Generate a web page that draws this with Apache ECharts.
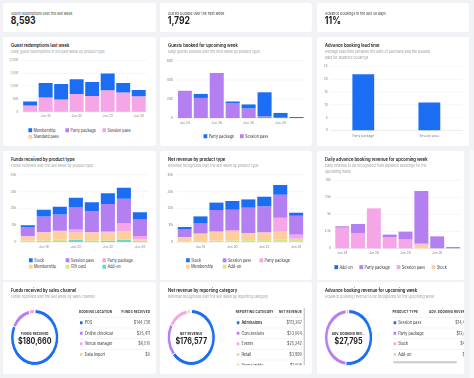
<!DOCTYPE html>
<html><head><meta charset="utf-8">
<script src="https://cdn.jsdelivr.net/npm/echarts@6/dist/echarts.min.js"></script>
<style>
html,body{margin:0;padding:0;width:474px;height:378px;overflow:hidden;background:#f1f2f6;}
#page{position:absolute;left:0;top:0;transform-origin:0 0;font-family:Inter,Roboto,"Noto Sans",sans-serif;}
.card{position:absolute;background:#fff;border-radius:8px;overflow:hidden;}
.t{position:absolute;white-space:nowrap;}
.box{position:absolute;}
</style></head><body><div id="page"></div>
<script>
// ---------------- data ----------------
const lastWeekDays = ['Jun 17','Jun 18','Jun 19','Jun 20','Jun 21','Jun 22','Jun 23','Jun 24'];
const nextWeekDays = ['Jun 24','Jun 25','Jun 26','Jun 27','Jun 28','Jun 29','Jun 30','Jul 1'];

const kpiLabels = ['Guest redemptions over the last week','Guests booked over the next week','Advance bookings in the last 30 days'];
const kpiValues = ['8,593','1,792','11%'];

// Guest redemptions last week
const redemptionSeriesNames = ['Membership','Party package','Session pass','Standard pass'];
const redemptionMembership = [160, 570, 610, 570, 545, 660, 365, 245];
const redemptionPartyPackage = [0, 0, 0, 0, 0, 0, 0, 0];
const redemptionSessionPass = [240, 550, 470, 690, 610, 830, 750, 600];
const redemptionStandardPass = [0, 0, 0, 0, 0, 0, 0, 0];
const redemptionTicks = [0, 500, 1000, 1500, 2000];

// Guests booked for upcoming week
const bookedSeriesNames = ['Party package','Session pass'];
const bookedPartyPackage = [0, 42, 0, 17, 42, 252, 50, 10];
const bookedSessionPass = [286, 210, 471, 155, 100, 17, 3, 0];
const bookedTicks = [0, 200, 400, 600];

// Advance booking lead time
const leadTimeCategories = ['Party package','Session pass'];
const leadTimeDays = [21.9, 10.9];
const leadTimeTicks = [0, 5, 10, 15, 20, 25];

// Funds received by product type (thousands)
const fundsSeriesNames = ['Stock','Session pass','Party package','Membership','Gift card','Add-on'];
const fundsStock = [1.2, 4.0, 4.6, 5.5, 5.4, 6.3, 6.6, 4.3];
const fundsSessionPass = [5.1, 9.3, 9.7, 13.3, 12.3, 16.3, 14.4, 9.7];
const fundsPartyPackage = [0.3, 0.3, 0.2, 1.8, 0.3, 0.6, 5.0, 2.0];
const fundsMembership = [2.5, 4.6, 5.2, 4.0, 4.6, 4.5, 4.7, 0.9];
const fundsGiftCard = [0.5, 0.6, 0.8, 0.5, 0.5, 0.5, 0.4, 0.3];
const fundsAddOn = [0.3, 0.4, 0.5, 1.2, 0.5, 0.7, 1.2, 0.4];
const fundsTicks = [0, 10, 20, 30, 40];

// Net revenue by product type (thousands)
const netSeriesNames = ['Stock','Session pass','Party package','Membership','Add-on'];
const netStock = [1.2, 3.9, 4.4, 5.2, 4.9, 5.7, 5.8, 1.8];
const netSessionPass = [4.7, 6.2, 12.7, 12.1, 15.1, 15.4, 13.7, 11.2];
const netPartyPackage = [0.2, 0.2, 0.4, 1.0, 0.2, 0.2, 8.3, 2.4];
const netMembership = [2.4, 4.3, 5.1, 5.0, 4.0, 4.4, 4.5, 0.8];
const netAddOn = [0.4, 0.6, 0.8, 1.1, 1.1, 1.2, 1.6, 1.2];
const netTicks = [0, 10, 20, 30, 40];

// Daily advance booking revenue for upcoming week (thousands)
const advSeriesNames = ['Add-on','Party package','Session pass','Stock'];
const advAddOn = [0, 0, 0, 0, 0, 0, 0, 0];
const advPartyPackage = [0.2, 1.33, 0, 0.4, 1.13, 7.73, 1.76, 0.2];
const advSessionPass = [3.04, 2.25, 5.88, 1.62, 1.32, 0.15, 0, 0];
const advStock = [0, 0, 0, 0, 0, 0.55, 0, 0];
const advTicks = [0, 2.5, 5, 7.5, 10];

// Donuts
const salesChannels = ['POS','Online checkout','Venue manager','Data import'];
const salesFunds = [144739, 25411, 6510, 0];
const salesFundsLabels = ['$144,739','$25,411','$6,510','$0'];
const salesTotal = '$180,660';

const reportingCategories = ['Admissions','Concessions','Events','Retail','Sponsorship'];
const categoryRevenue = [113267, 33064, 25242, 3996, 1008];
const categoryRevenueLabels = ['$113,267','$33,064','$25,242','$3,996','$1,008'];
const categoryTotal = '$176,577';

const advProductTypes = ['Session pass','Party package','Stock','Add-on'];
const advProductRevenue = [14452, 12871, 452, 20];
const advProductRevenueLabels = ['$14,452','$12,871','$452','$20'];
const advTotal = '$27,795';

// ---------------- layout helpers ----------------
const palette = ['#1b6ef3', '#b47ff0', '#f5a6e6', '#fccf9d', '#d8e58a', '#6cd8c6'];
const CFONT = 'Inter';
const SX = 0.86 / 3, SY = 1 / 3;
const X = v => v / SX, Y = v => v / SY;
const page = document.getElementById('page');
page.style.width = X(474) + 'px';
page.style.height = Y(378) + 'px';
page.style.transform = 'scale(' + SX + ',' + SY + ')';

function makeCard(x, y, w, h) {
  const d = document.createElement('div');
  d.className = 'card';
  d.style.left = X(x) + 'px'; d.style.top = Y(y) + 'px';
  d.style.width = X(w) + 'px'; d.style.height = Y(h) + 'px';
  d._w = X(w); d._h = Y(h);
  page.appendChild(d);
  return d;
}
function addText(parent, str, x, yc, size, weight, color, align, extra) {
  const d = document.createElement('div');
  d.className = 't';
  const lh = size * 1.25;
  d.style.fontSize = size + 'px'; d.style.lineHeight = lh + 'px';
  d.style.fontWeight = weight; d.style.color = color;
  d.style.top = (yc - lh / 2) + 'px';
  if (align === 'right') { d.style.right = (parent._w - x) + 'px'; d.style.textAlign = 'right'; }
  else if (align === 'center') { d.style.left = (x - 300) + 'px'; d.style.width = '600px'; d.style.textAlign = 'center'; }
  else d.style.left = x + 'px';
  if (extra) Object.assign(d.style, extra);
  d.textContent = str;
  parent.appendChild(d);
  return d;
}
function addBox(parent, x, y, w, h, color, radius) {
  const d = document.createElement('div');
  d.className = 'box';
  Object.assign(d.style, {left: x + 'px', top: y + 'px', width: w + 'px', height: h + 'px', background: color, borderRadius: (radius || 0) + 'px'});
  parent.appendChild(d);
  return d;
}
function makeChart(card) {
  const d = document.createElement('div');
  Object.assign(d.style, {position: 'absolute', left: '0', top: '0', width: card._w + 'px', height: card._h + 'px'});
  card.appendChild(d);
  return echarts.init(d, null, {renderer: 'svg'});
}
function titles(card, title, subLines) {
  addText(card, title, 28, 24.5, 14.5, 600, '#1d1d1f');
  subLines.forEach((s, i) => addText(card, s, 28, 44.5 + i * 17.5, 12, 400, '#9b9ca0'));
}

const cols = [3, 160, 317];
const colW = [153, 152, 152];

// faint strip at right edge
const strip = document.createElement('div');
Object.assign(strip.style, {position: 'absolute', left: X(469.5) + 'px', top: Y(150) + 'px', width: X(4.5) + 'px', height: Y(228) + 'px', background: '#f8f8fa'});
page.appendChild(strip);

// ---------------- KPI row ----------------
kpiLabels.forEach((lab, i) => {
  const c = makeCard(cols[i], 3, colW[i], 29);
  addText(c, lab, 28, 30, 12, 400, '#3a3a3c');
  addText(c, kpiValues[i], 27, 53, 30, 700, '#1d1d1f');
});

// ---------------- bar chart builder ----------------
function barChart(card, cfg) {
  const chart = makeChart(card);
  // series listed top-of-stack first; ECharts stacks first series at bottom
  const ser = cfg.series.slice().reverse().map(s => ({
    name: s.name, type: 'bar', stack: cfg.stack === false ? undefined : 'total', data: s.data,
    itemStyle: {color: s.color}, barCategoryGap: cfg.gap, barWidth: cfg.barWidth, silent: true
  }));
  const opt = {
    animation: false,
    textStyle: {fontFamily: CFONT},
    grid: Object.assign({outerBoundsMode: 'none', containLabel: false}, cfg.grid),
    xAxis: {
      type: 'category', data: cfg.cats,
      axisTick: {show: false},
      axisLine: {show: true, lineStyle: {color: '#e3e5ea', width: 2}},
      axisLabel: {color: '#7d7e82', fontSize: 11, fontFamily: CFONT, margin: cfg.xMargin || 8, interval: cfg.labelPick || 0}
    },
    yAxis: {
      type: 'value', min: cfg.ticks[0], max: cfg.ticks[cfg.ticks.length - 1],
      interval: cfg.ticks[1] - cfg.ticks[0],
      axisLine: {show: false}, axisTick: {show: false},
      axisLabel: {color: '#7d7e82', fontSize: 11, fontFamily: CFONT, margin: cfg.yMargin || 12, formatter: cfg.yFmt},
      splitLine: {lineStyle: {color: '#eceef2', width: 2}}
    },
    series: ser
  };
  if (cfg.legend) {
    const lg = Object.assign({
      data: cfg.series.map(s => s.name), icon: 'rect', itemWidth: 13, itemHeight: 12,
      selectedMode: false, orient: 'horizontal'
    }, cfg.legend);
    lg.textStyle = Object.assign({fontSize: 13, color: '#333336', fontFamily: CFONT}, cfg.legend.textStyle || {});
    opt.legend = lg;
  }
  chart.setOption(opt);
}
const kFmt = v => v === 0 ? '0' : v + 'k';
const odd = i => i % 2 === 1;
const even = i => i % 2 === 0;

// ---------------- row 2 ----------------
{
  const c = makeCard(3, 37, 153, 109);
  barChart(c, {
    cats: lastWeekDays, ticks: redemptionTicks, labelPick: odd, gap: '10%', yMargin: 14,
    grid: {left: 68, right: 33, top: 70, bottom: 103},
    series: [
      {name: redemptionSeriesNames[0], data: redemptionMembership, color: palette[0]},
      {name: redemptionSeriesNames[1], data: redemptionPartyPackage, color: palette[1]},
      {name: redemptionSeriesNames[2], data: redemptionSessionPass, color: palette[2]},
      {name: redemptionSeriesNames[3], data: redemptionStandardPass, color: palette[3]}
    ],
    legend: {left: 84, top: 268, itemGap: 5, width: 395, textStyle: {width: 106, lineHeight: 14}}
  });
  titles(c, 'Guest redemptions last week', ['Daily guest redemptions in the past week by product type']);
}
{
  const c = makeCard(160, 37, 152, 109);
  barChart(c, {
    cats: nextWeekDays, ticks: bookedTicks, labelPick: even, gap: '12%', yMargin: 14,
    grid: {left: 59, right: 26, top: 71, bottom: 84},
    series: [
      {name: bookedSeriesNames[0], data: bookedPartyPackage, color: palette[0]},
      {name: bookedSeriesNames[1], data: bookedSessionPass, color: palette[1]}
    ],
    legend: {left: 'center', top: 286, itemGap: 20}
  });
  titles(c, 'Guests booked for upcoming week', ['Daily guests booked over the next week by product type']);
}
{
  const c = makeCard(317, 37, 152, 109);
  barChart(c, {
    cats: leadTimeCategories, ticks: leadTimeTicks, stack: false, barWidth: '33%', yMargin: 9, xMargin: 10,
    grid: {left: 46, right: 23, top: 88, bottom: 47},
    series: [{name: 'Lead time', data: leadTimeDays, color: palette[0]}]
  });
  titles(c, 'Advance booking lead time', ['Average lead time between the date of purchase and the booked', 'date for advance bookings']);
}

// ---------------- row 3 ----------------
{
  const c = makeCard(3, 151, 153, 129);
  barChart(c, {
    cats: lastWeekDays, ticks: fundsTicks, labelPick: odd, gap: '12%', yFmt: kFmt, yMargin: 12,
    grid: {left: 59, right: 28, top: 71, bottom: 114},
    series: [
      {name: fundsSeriesNames[0], data: fundsStock, color: palette[0]},
      {name: fundsSeriesNames[1], data: fundsSessionPass, color: palette[1]},
      {name: fundsSeriesNames[2], data: fundsPartyPackage, color: palette[2]},
      {name: fundsSeriesNames[3], data: fundsMembership, color: palette[3]},
      {name: fundsSeriesNames[4], data: fundsGiftCard, color: palette[4]},
      {name: fundsSeriesNames[5], data: fundsAddOn, color: palette[5]}
    ],
    legend: {left: 86, top: 316, itemGap: 5, width: 390, textStyle: {width: 105, lineHeight: 14}}
  });
  titles(c, 'Funds received by product type', ['Funds received over the last week by product type']);
}
{
  const c = makeCard(160, 151, 152, 129);
  barChart(c, {
    cats: lastWeekDays, ticks: netTicks, labelPick: odd, gap: '12%', yFmt: kFmt, yMargin: 12,
    grid: {left: 58, right: 27, top: 71, bottom: 114},
    series: [
      {name: netSeriesNames[0], data: netStock, color: palette[0]},
      {name: netSeriesNames[1], data: netSessionPass, color: palette[1]},
      {name: netSeriesNames[2], data: netPartyPackage, color: palette[2]},
      {name: netSeriesNames[3], data: netMembership, color: palette[3]},
      {name: netSeriesNames[4], data: netAddOn, color: palette[4]}
    ],
    legend: {left: 86, top: 316, itemGap: 5, width: 390, textStyle: {width: 105, lineHeight: 14}}
  });
  titles(c, 'Net revenue by product type', ['Revenue recognized over the last week by product type']);
}
{
  const c = makeCard(317, 151, 147, 129);
  barChart(c, {
    cats: nextWeekDays, ticks: advTicks, labelPick: even, gap: '12%', yFmt: kFmt, yMargin: 12,
    grid: {left: 60, right: 11, top: 88, bottom: 95},
    series: [
      {name: advSeriesNames[0], data: advAddOn, color: palette[0]},
      {name: advSeriesNames[1], data: advPartyPackage, color: palette[1]},
      {name: advSeriesNames[2], data: advSessionPass, color: palette[2]},
      {name: advSeriesNames[3], data: advStock, color: palette[3]}
    ],
    legend: {left: 'center', top: 337, itemGap: 23}
  });
  titles(c, 'Daily advance booking revenue for upcoming week', ['Daily revenue to be recognized from advance bookings for the', 'upcoming week']);
}

// ---------------- row 4: donuts ----------------
function donutCard(card, cfg) {
  const chart = makeChart(card);
  chart.setOption({
    animation: false,
    series: [{
      type: 'pie', radius: [72, 84], center: cfg.center, startAngle: 90, clockwise: true,
      label: {show: false}, labelLine: {show: false}, silent: true,
      itemStyle: {borderColor: '#ffffff', borderWidth: 3},
      data: cfg.names.map((n, i) => ({name: n, value: cfg.values[i], itemStyle: {color: palette[i]}}))
    }]
  });
  titles(card, cfg.title, [cfg.subtitle]);
  addText(card, cfg.centerLabel, cfg.center[0], 155, 10.5, 700, '#2c2c2e', 'center', {letterSpacing: '0.4px'});
  addText(card, cfg.total, cfg.center[0], 177, 25, 700, '#1d1d1f', 'center');

  const host = document.createElement('div');
  Object.assign(host.style, {position: 'absolute', left: '0', top: '0', width: card._w + 'px', height: cfg.clipBottom + 'px', overflow: 'hidden'});
  host._w = card._w;
  card.appendChild(host);
  const hdr = {letterSpacing: '0.6px'};
  addText(host, cfg.h1, cfg.x0, 91, 10.5, 700, '#38383b', null, hdr);
  addText(host, cfg.h2, cfg.xR, 91, 10.5, 700, '#38383b', 'right', hdr);
  cfg.names.forEach((n, i) => {
    const yc = 122 + i * 31.8;
    addBox(host, cfg.x0, yc - 16.5, cfg.xR - cfg.x0, 2, '#eeeff2');
    addBox(host, cfg.x0 + 4, yc - 4.5, 9, 9, palette[i], 1.5);
    addText(host, n, cfg.x0 + 20, yc, 13, (cfg.boldFirst && i === 0) ? 600 : 400, '#333336');
    addText(host, cfg.labels[i], cfg.xR, yc, 13, 400, '#4a4a4d', 'right');
  });
}
{
  const c = makeCard(3, 282, 153, 92);
  donutCard(c, {
    title: 'Funds received by sales channel', subtitle: 'Funds received over the last week by sales channel',
    names: salesChannels, values: salesFunds, labels: salesFundsLabels,
    centerLabel: 'FUNDS RECEIVED', total: salesTotal, center: [111, 166.5],
    h1: 'BOOKING LOCATION', h2: 'FUNDS RECEIVED', x0: 265, xR: 513, clipBottom: 276
  });
}
{
  const c = makeCard(160, 282, 152, 92);
  donutCard(c, {
    title: 'Net revenue by reporting category', subtitle: 'Revenue recognized over the last week by reporting category',
    names: reportingCategories, values: categoryRevenue, labels: categoryRevenueLabels,
    centerLabel: 'NET REVENUE', total: categoryTotal, center: [109, 166.5], boldFirst: true,
    h1: 'REPORTING CATEGORY', h2: 'NET REVENUE', x0: 264, xR: 495, clipBottom: 250
  });
  addBox(c, 501, 78, 5, 171, '#c9cacd', 3);
}
{
  const c = makeCard(317, 282, 147, 92);
  donutCard(c, {
    title: 'Advance booking revenue for upcoming week', subtitle: 'Advance booking revenue to be recognized for the upcoming week',
    names: advProductTypes, values: advProductRevenue, labels: advProductRevenueLabels,
    centerLabel: 'ADV. BOOKING REV...', total: advTotal, center: [110, 166.5],
    h1: 'PRODUCT TYPE', h2: 'ADV. BOOKING REVENUE', x0: 263, xR: 532, clipBottom: 276
  });
  addBox(c, 265, 238, 223, 6, '#c9cacd', 3);
}
</script></body></html>
